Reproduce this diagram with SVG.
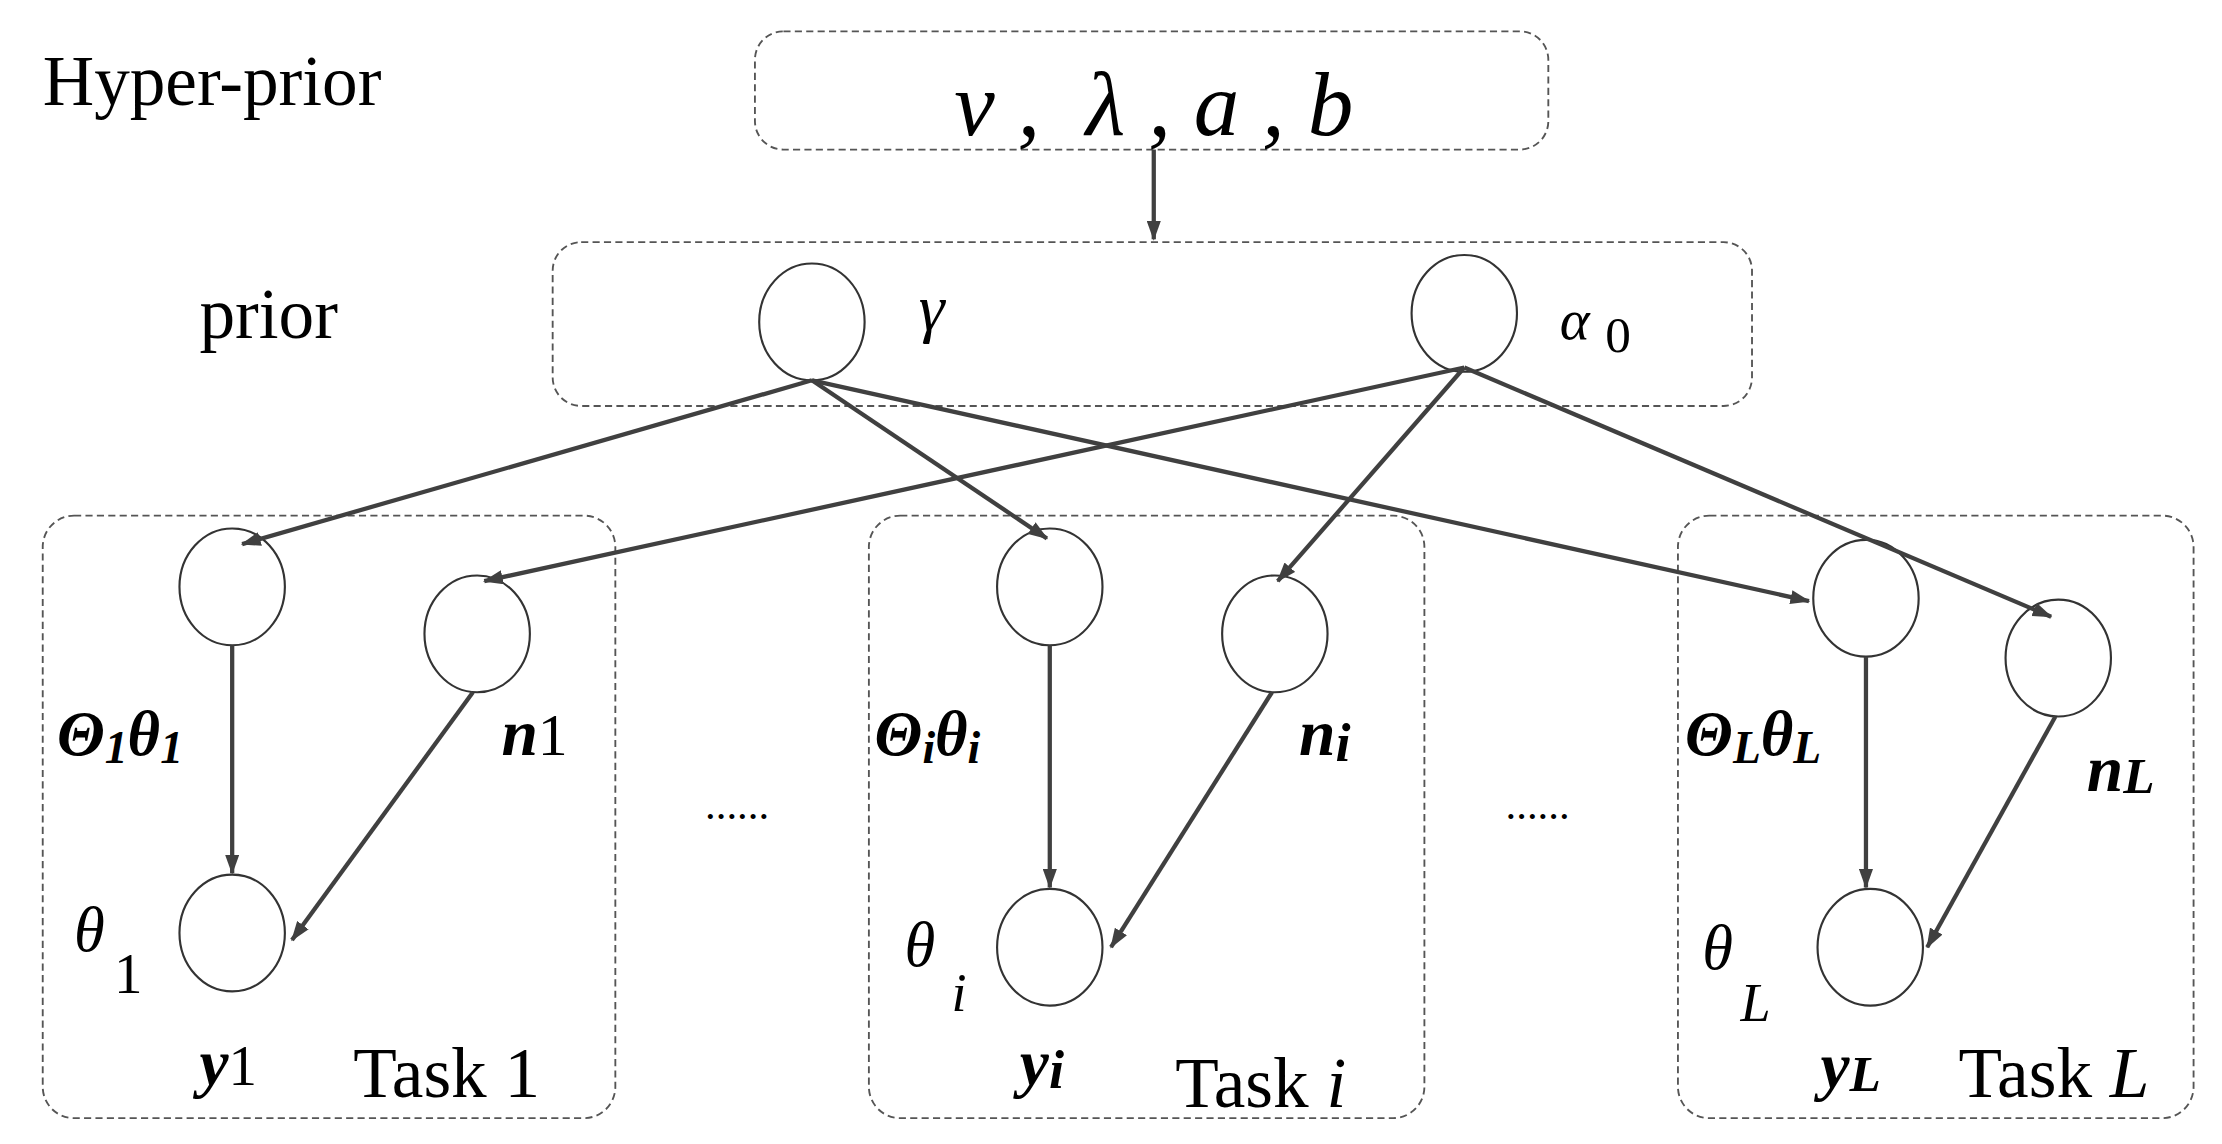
<svg xmlns="http://www.w3.org/2000/svg" width="2222" height="1144" viewBox="0 0 2222 1144">
<defs>
<marker id="ah" markerWidth="14" markerHeight="10" refX="13" refY="5" orient="auto" markerUnits="userSpaceOnUse"><path d="M0,0 L14,5 L0,10 z" fill="#404040"/></marker>
</defs>
<style>
.box{fill:none;stroke:#555;stroke-width:1.3;stroke-dasharray:5,3}
.nd{fill:#fff;stroke:#333;stroke-width:1.5}
.c{stroke:#404040;stroke-width:3;fill:none;marker-end:url(#ah)}
.t{font-family:"Liberation Serif",serif;fill:#000}
.i{font-style:italic}
.b{font-weight:bold}
</style>
<rect width="2222" height="1144" fill="#fff"/>
<g transform="scale(1.4244)">
<g id="hyper">
<rect class="box" x="530" y="22" width="557" height="83" rx="20"/>
<text class="t" x="30" y="74" font-size="50">Hyper-prior</text>
<text class="t i" x="810" y="95" font-size="64" text-anchor="middle" xml:space="preserve">v ,  λ , a , b</text>
</g>
<g id="prior">
<rect class="box" x="388" y="170" width="842" height="115" rx="20"/>
<text class="t" x="140" y="237" font-size="50">prior</text>
<ellipse class="nd" cx="570" cy="226" rx="37" ry="41"/>
<text class="t i" x="645" y="232" font-size="46">γ</text>
<ellipse class="nd" cx="1028" cy="220" rx="37" ry="41"/>
<text class="t i" x="1095" y="238" font-size="40">α</text>
<text class="t" x="1127" y="247" font-size="36">0</text>
</g>
<g id="task1">
<rect class="box" x="30" y="362" width="402" height="423" rx="22"/>
<ellipse class="nd" cx="163" cy="412" rx="37" ry="41"/>
<ellipse class="nd" cx="335" cy="445" rx="37" ry="41"/>
<ellipse class="nd" cx="163" cy="655" rx="37" ry="41"/>
<text class="t i b" x="40" y="530" font-size="44">Θ<tspan font-size="32" dy="6">1</tspan><tspan dy="-6">θ</tspan><tspan font-size="32" dy="6">1</tspan></text>
<text class="t i b" x="352" y="530" font-size="46">n<tspan font-style="normal" font-weight="normal" font-size="42">1</tspan></text>
<text class="t i" x="52" y="668" font-size="44">θ</text>
<text class="t" x="80" y="697" font-size="40">1</text>
<text class="t i b" x="140" y="762" font-size="46">y<tspan font-style="normal" font-weight="normal" font-size="40">1</tspan></text>
<text class="t" x="248" y="770" font-size="50">Task 1</text>
</g>
<g id="taski">
<rect class="box" x="610" y="362" width="390" height="423" rx="22"/>
<ellipse class="nd" cx="737" cy="412" rx="37" ry="41"/>
<ellipse class="nd" cx="895" cy="445" rx="37" ry="41"/>
<ellipse class="nd" cx="737" cy="665" rx="37" ry="41"/>
<text class="t i b" x="614" y="530" font-size="44">Θ<tspan font-size="32" dy="6">i</tspan><tspan dy="-6">θ</tspan><tspan font-size="32" dy="6">i</tspan></text>
<text class="t i b" x="912" y="530" font-size="46">n<tspan font-size="38" dy="4">i</tspan></text>
<text class="t i" x="635" y="678" font-size="44">θ</text>
<text class="t i" x="668" y="710" font-size="38">i</text>
<text class="t i b" x="716" y="762" font-size="46">y<tspan font-size="38" dy="2">i</tspan></text>
<text class="t" x="825" y="777" font-size="50">Task <tspan class="i">i</tspan></text>
</g>
<g id="taskL">
<rect class="box" x="1178" y="362" width="362" height="423" rx="22"/>
<ellipse class="nd" cx="1310" cy="420" rx="37" ry="41"/>
<ellipse class="nd" cx="1445" cy="462" rx="37" ry="41"/>
<ellipse class="nd" cx="1313" cy="665" rx="37" ry="41"/>
<text class="t i b" x="1183" y="530" font-size="44">Θ<tspan font-size="32" dy="6">L</tspan><tspan dy="-6">θ</tspan><tspan font-size="32" dy="6">L</tspan></text>
<text class="t i b" x="1465" y="555" font-size="46">n<tspan font-size="36" dy="2">L</tspan></text>
<text class="t i" x="1195" y="680" font-size="44">θ</text>
<text class="t i" x="1222" y="717" font-size="38">L</text>
<text class="t i b" x="1278" y="764" font-size="46">y<tspan font-size="36" dy="2">L</tspan></text>
<text class="t" x="1375" y="770" font-size="50">Task <tspan class="i">L</tspan></text>
</g>
<g id="dots">
<text class="t" x="495" y="575" font-size="30">......</text>
<text class="t" x="1057" y="575" font-size="30">......</text>
</g>
<g id="connectors">
<line class="c" x1="810" y1="105" x2="810" y2="168"/>
<line class="c" x1="570" y1="267" x2="170" y2="382"/>
<line class="c" x1="570" y1="267" x2="735" y2="378"/>
<line class="c" x1="570" y1="267" x2="1270" y2="422"/>
<line class="c" x1="1028" y1="258" x2="340" y2="408"/>
<line class="c" x1="1028" y1="258" x2="897" y2="408"/>
<line class="c" x1="1028" y1="258" x2="1440" y2="433"/>
<line class="c" x1="163" y1="453" x2="163" y2="613"/>
<line class="c" x1="332" y1="486" x2="205" y2="660"/>
<line class="c" x1="737" y1="453" x2="737" y2="623"/>
<line class="c" x1="893" y1="486" x2="780" y2="665"/>
<line class="c" x1="1310" y1="461" x2="1310" y2="623"/>
<line class="c" x1="1443" y1="503" x2="1353" y2="665"/>
</g>
</g>
</svg>
